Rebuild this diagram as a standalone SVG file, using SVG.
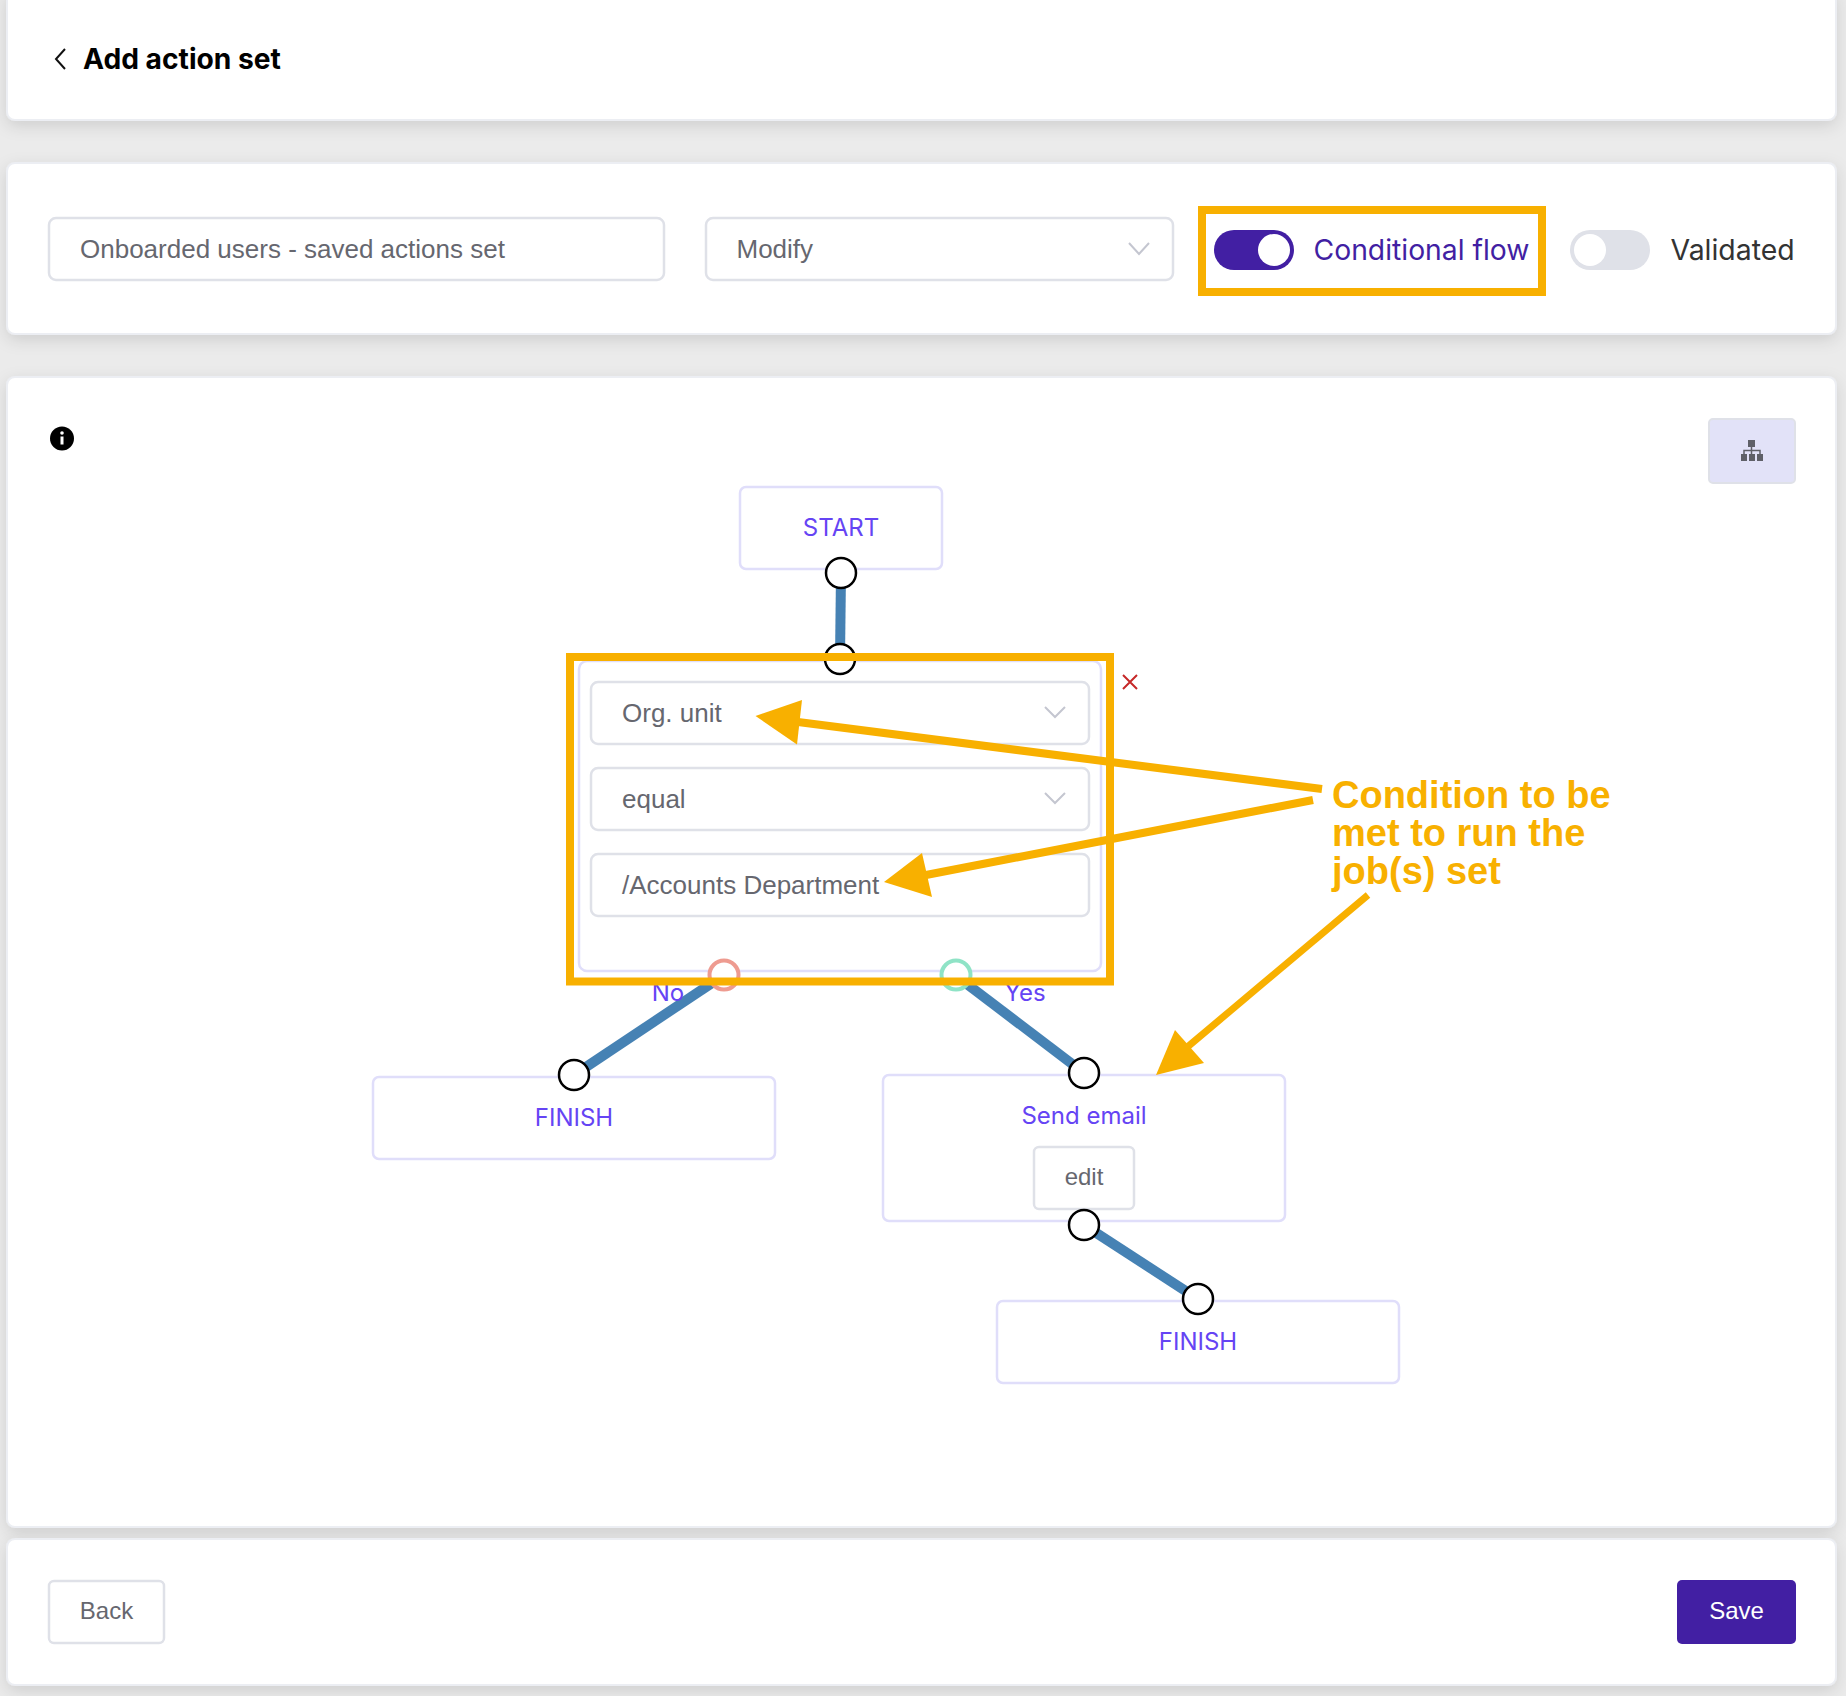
<svg xmlns="http://www.w3.org/2000/svg" width="1846" height="1696" viewBox="0 0 1846 1696">
<defs>
<filter id="sh" x="-5%" y="-20%" width="110%" height="150%"><feDropShadow dx="0" dy="5" stdDeviation="8" flood-color="#000" flood-opacity="0.12"/></filter>
</defs>
<style>
.panel{fill:#fff;stroke:#eceef3;stroke-width:2;filter:url(#sh)}
.field{fill:#fff;stroke:#dfe1e8;stroke-width:2.5}
.node{fill:#fff;stroke:#e0defa;stroke-width:2.5}
.ftext{font-family:"Liberation Sans",Arial,sans-serif;font-size:26px;fill:#66676f}
.ntext{font-family:Inter,"Liberation Sans",sans-serif;font-size:24px;fill:#6544f4;text-anchor:middle}
.orange{fill:none;stroke:#f8b000;stroke-width:8}
.chev{fill:none;stroke:#c4c6d0;stroke-width:2}
.conn{stroke:#4682b4;stroke-width:10;fill:none}
.port{fill:#fff;stroke:#000;stroke-width:2.5}
.head{fill:#f8b000}
</style>
<rect width="1846" height="1696" fill="#ebebeb"/>
<g id="panels">
<rect class="panel" x="7" y="-10" width="1829" height="130" rx="8"/>
<rect class="panel" x="7" y="163" width="1829" height="171" rx="8"/>
<rect class="panel" x="7" y="377" width="1829" height="1150" rx="8"/>
<rect class="panel" x="7" y="1539" width="1829" height="146" rx="8"/>
</g>
<g id="header">
<path d="M65 49 L56 59 L65 69" fill="none" stroke="#111" stroke-width="2"/>
<text x="83" y="69" font-family="Inter,'Liberation Sans',sans-serif" font-size="28.200" font-weight="700" fill="#000">Add action set</text>
</g>
<g id="name-field"><rect class="field" x="49" y="218" width="615" height="62" rx="7"/><text class="ftext" x="80" y="258">Onboarded users - saved actions set</text></g>
<g id="modify-field"><rect class="field" x="706" y="218" width="467" height="62" rx="7"/><text class="ftext" x="736.500" y="258">Modify</text><path class="chev" d="M1129 243 L1139 254 L1149 243"/></g>
<g id="conditional-toggle">
<rect x="1214" y="230" width="80" height="40" rx="20" fill="#421fa3"/><circle cx="1274" cy="250" r="16" fill="#fff"/>
<text x="1313.500" y="260" font-family="Inter,'Liberation Sans',sans-serif" font-size="28.300" fill="#421fa3">Conditional flow</text>
</g>
<g id="validated-toggle">
<rect x="1570" y="230" width="80" height="40" rx="20" fill="#dfe1e8"/><circle cx="1590" cy="250" r="16" fill="#fff"/>
<text x="1670.500" y="260" font-family="Inter,'Liberation Sans',sans-serif" font-size="28.400" fill="#333">Validated</text>
</g>
<g id="info-icon"><circle cx="62" cy="438.500" r="12" fill="#000"/><circle cx="62" cy="433" r="1.800" fill="#fff"/><rect x="60.500" y="436.500" width="3" height="8" fill="#fff"/></g>
<g id="layout-button">
<rect x="1709" y="419" width="86" height="64" rx="4" fill="#e2e2f8" stroke="#dfe1e8" stroke-width="2"/>
<path d="M1748 440h7v7h-7zM1741 454h6v7h-6zM1749 454h6v7h-6zM1757 454h6v7h-6z" fill="#5f6068"/>
<path d="M1751.500 447v7M1744 454v-3.500h16v3.500" fill="none" stroke="#5f6068" stroke-width="1.500"/>
</g>
<g id="connectors">
<line class="conn" x1="841" y1="573" x2="840" y2="659"/>
<line class="conn" x1="724" y1="975" x2="574" y2="1075"/>
<line class="conn" x1="955" y1="975" x2="1084" y2="1073"/>
<line class="conn" x1="1084" y1="1225" x2="1198" y2="1299"/>
</g>
<g id="node-start"><rect class="node" x="740" y="487" width="202" height="82" rx="6"/><text class="ntext" x="841" y="536">START</text><circle class="port" cx="841" cy="573" r="15"/></g>
<g id="node-condition">
<rect class="node" x="579" y="661" width="522" height="310" rx="8"/>
<circle class="port" cx="840" cy="659" r="15"/>
<rect class="field" x="591" y="682" width="498" height="62" rx="7"/><text class="ftext" x="622" y="722">Org. unit</text><path class="chev" d="M1045 707 L1055 717 L1065 707"/>
<rect class="field" x="591" y="768" width="498" height="62" rx="7"/><text class="ftext" x="622" y="808">equal</text><path class="chev" d="M1045 793 L1055 803 L1065 793"/>
<rect class="field" x="591" y="854" width="498" height="62" rx="7"/><text class="ftext" x="622" y="894">/Accounts Department</text>
<path d="M1123 675 L1137 689 M1137 675 L1123 689" stroke="#c62828" stroke-width="2" fill="none"/>
<circle cx="724" cy="975" r="14.500" fill="#fff" stroke="#ee9b90" stroke-width="4"/>
<circle cx="956" cy="975" r="14.500" fill="#fff" stroke="#8fe3c6" stroke-width="4"/>
<text class="ntext" x="668" y="1001">No</text>
<text class="ntext" x="1025" y="1001">Yes</text>
</g>
<g id="node-finish-left"><rect class="node" x="373" y="1077" width="402" height="82" rx="6"/><text class="ntext" x="574" y="1126">FINISH</text><circle class="port" cx="574" cy="1075" r="15"/></g>
<g id="node-send-email"><rect class="node" x="883" y="1075" width="402" height="146" rx="6"/><text class="ntext" x="1084" y="1124">Send email</text>
<circle class="port" cx="1084" cy="1073" r="15"/>
<rect class="field" x="1034" y="1147" width="100" height="62" rx="5"/><text class="ftext" x="1084" y="1185" text-anchor="middle" style="font-size:24px">edit</text>
<circle class="port" cx="1084" cy="1225" r="15"/></g>
<g id="node-finish-right"><rect class="node" x="997" y="1301" width="402" height="82" rx="6"/><text class="ntext" x="1198" y="1350">FINISH</text><circle class="port" cx="1198" cy="1299" r="15"/></g>
<g id="footer">
<rect class="field" x="49" y="1581" width="115" height="62" rx="5"/><text class="ftext" x="106.500" y="1619" text-anchor="middle" style="font-size:24px">Back</text>
<rect x="1677" y="1580" width="119" height="64" rx="5" fill="#421fa3"/><text x="1736.500" y="1619" text-anchor="middle" font-family="'Liberation Sans',Arial,sans-serif" font-size="24" fill="#fff">Save</text>
</g>
<g id="annotations">
<rect class="orange" x="1202" y="210" width="340" height="82"/>
<rect class="orange" x="570" y="657" width="540" height="324.500"/>
<line class="orange" x1="798" y1="722" x2="1322" y2="789"/>
<polygon class="head" points="755.500,716 802,700 797,744.500"/>
<line class="orange" x1="926" y1="875" x2="1313" y2="800"/>
<polygon class="head" points="884,882 922,853 932,897"/>
<line class="orange" x1="1185" y1="1049" x2="1368" y2="895" style="stroke-width:7"/>
<polygon class="head" points="1156,1075 1175,1030 1204,1063"/>
<g font-family="'Liberation Sans',Arial,sans-serif" font-size="38" font-weight="700" fill="#f8b000">
<text x="1332" y="807.500">Condition to be</text>
<text x="1332" y="845.500">met to run the</text>
<text x="1332" y="884">job(s) set</text>
</g>
</g>
</svg>
